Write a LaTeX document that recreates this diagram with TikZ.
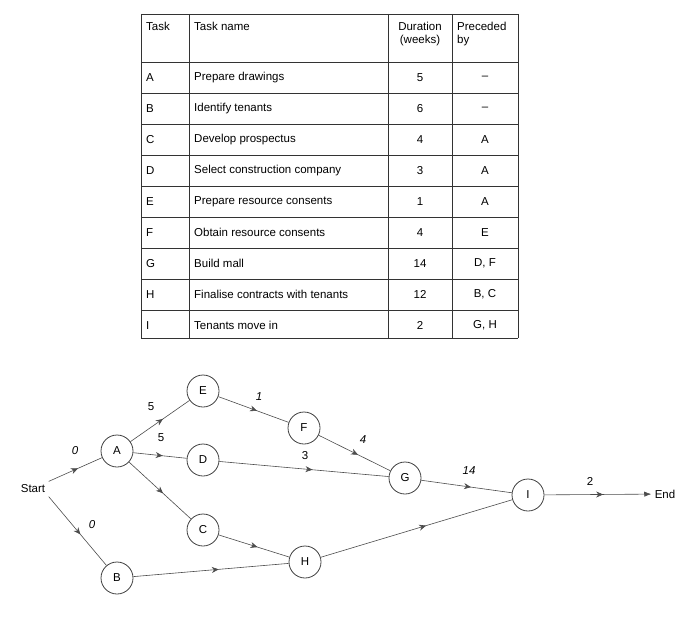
\documentclass[tikz,border=0pt]{standalone}
\usepackage{fontspec}
\setmainfont{Liberation Sans}
\usetikzlibrary{arrows.meta,decorations.markings}
\begin{document}
\begin{tikzpicture}[x=1pt,y=-1pt,font=\fontsize{11.5}{13}\selectfont,
  ev/.style={circle,draw=black!75,thick,minimum size=32pt,inner sep=0pt},
  act/.style={draw=black!70,semithick,postaction={decorate},decoration={markings,mark=at position 0.55 with {\arrow{Stealth[length=7pt,width=6pt]}}}},
  lab/.style={inner sep=1pt},
  it/.style={lab,font=\fontsize{11.5}{13}\selectfont\itshape},
  tl/.style={draw=black!80,thick}]
\useasboundingbox (0,0) rectangle (700,636);
% table
\foreach \y in {14,62,93,124,155,186,217,248,279,310,338} \draw[tl] (141,\y) -- (518,\y);
\foreach \x in {141,189,388,452,518} \draw[tl] (\x,14) -- (\x,338);
\node[anchor=north west,lab] (h1) at (145,21) {Task};
\node[anchor=north west,lab] (h2) at (193,21) {Task name};
\node[anchor=north,lab,align=center] (h3) at (420,21) {Duration\\(weeks)};
\node[anchor=north west,lab,align=left] (h4) at (456,21) {Preceded\\by};
\foreach \t/\n/\d/\p [count=\i] in {A/Prepare drawings/5/--,B/Identify tenants/6/--,C/Develop prospectus/4/A,D/Select construction company/3/A,E/Prepare resource consents/1/A,F/Obtain resource consents/4/E,G/Build mall/14/{D, F},H/Finalise contracts with tenants/12/{B, C},I/Tenants move in/2/{G, H}}{
  \node[anchor=west,lab] (t\i) at (145,46.5+31*\i) {\t};
  \node[anchor=west,lab] (n\i) at (193,46.5+31*\i) {\n};
  \node[lab] (d\i) at (420,46.5+31*\i) {\d};
  \node[lab] (p\i) at (485,46.5+31*\i) {\p};
}
% network
\node (S) at (33,489) {Start};
\node[ev] (A) at (117,451) {A};
\node[ev] (B) at (117,578) {B};
\node[ev] (C) at (203,530) {C};
\node[ev] (D) at (203,460) {D};
\node[ev] (E) at (203,391) {E};
\node[ev] (F) at (304,428) {F};
\node[ev] (G) at (405,478) {G};
\node[ev] (H) at (305,562) {H};
\node[ev] (I) at (528,495) {I};
\node (End) at (665,494) {End};
\draw[act] (S.north east) -- (A);
\draw[act] (S.south east) -- (B);
\draw[act] (A) -- (E);
\draw[act] (A) -- (D);
\draw[act] (A) -- (C);
\draw[act] (E) -- (F);
\draw[act] (F) -- (G);
\draw[act] (D) -- (G);
\draw[act] (G) -- (I);
\draw[act] (C) -- (H);
\draw[act] (B) -- (H);
\draw[act] (H) -- (I);
\draw[act,-{Latex[length=7pt]}] (I) -- (End);
\node[it] (l1) at (75,451) {0};
\node[it] (l2) at (92,525) {0};
\node[lab] (l3) at (151,407) {5};
\node[lab] (l4) at (161,438) {5};
\node[it] (l5) at (259,397) {1};
\node[it] (l6) at (363,440) {4};
\node[lab] (l7) at (305,456) {3};
\node[it] (l8) at (469,471) {14};
\node[lab] (l9) at (590,481) {2};
\end{tikzpicture}
\end{document}
